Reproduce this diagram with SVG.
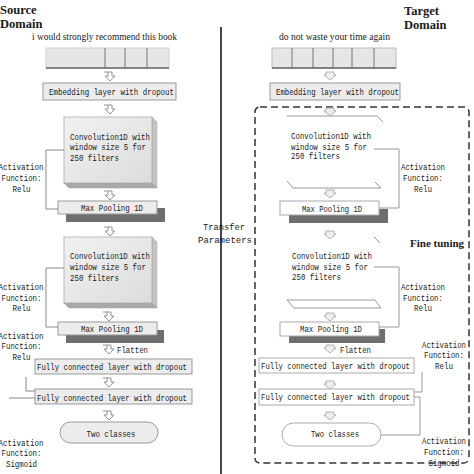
<svg xmlns="http://www.w3.org/2000/svg" width="474" height="474" viewBox="0 0 474 474">
<style>
.m{font-family:"Liberation Mono","DejaVu Sans Mono",monospace;font-size:9.5px;fill:#1a1a1a}
.s{font-family:"Liberation Serif","DejaVu Serif",serif;fill:#1a1a1a}
.b{font-weight:bold}
.box{fill:#ececec;stroke:#999;stroke-width:1}
.wbox{fill:#fff;stroke:#aaa;stroke-width:1}
.shadow{fill:#6e6e6e}
.ln{fill:none;stroke:#888;stroke-width:1}
.lnt{fill:none;stroke:#999;stroke-width:1}
.front{fill:url(#gf);stroke:#aaa;stroke-width:0.8}
.side{fill:#c4c4c4;stroke:#aaa;stroke-width:0.5}
.bot{fill:#a9a9a9;stroke:#999;stroke-width:0.5}
.mid{text-anchor:middle}
</style>
<defs>
<linearGradient id="gf" x1="0" y1="0" x2="1" y2="1">
<stop offset="0" stop-color="#f2f2f2"/>
<stop offset="1" stop-color="#dcdcdc"/>
</linearGradient>
<path id="arS" d="M-6,0 H2 V4 H5 L0,9 L-5,4 H-2 V0" fill="#fff" stroke="#888" stroke-width="0.9"/>
<path id="arT" d="M-4,0 H4 V3 H6 L0,8 L-6,3 H-4 Z" fill="#eee" stroke="#aaa" stroke-width="0.9"/>
</defs>
<rect width="474" height="474" fill="#fff"/>

<!-- headings -->
<g id="source-title">
<text class="s b" x="0" y="14" font-size="12.5">Source</text>
<text class="s b" x="0" y="28" font-size="12.5">Domain</text>
</g>
<g id="target-title">
<text class="s b" x="404" y="15" font-size="12.5">Target</text>
<text class="s b" x="404" y="29" font-size="12.5">Domain</text>
</g>
<text class="s" x="32" y="40" font-size="9.5" textLength="145" lengthAdjust="spacingAndGlyphs">i would strongly recommend this book</text>
<text class="s" x="279" y="40" font-size="9.5" textLength="111" lengthAdjust="spacingAndGlyphs">do not waste your time again</text>

<!-- divider and transfer label -->
<g id="divider">
<rect x="220" y="27" width="2" height="447" fill="#444"/>
<text class="m mid" x="224" y="230" font-size="10.5" textLength="42" lengthAdjust="spacingAndGlyphs">Transfer</text>
<text class="m mid" x="225" y="243" font-size="10.5" textLength="54" lengthAdjust="spacingAndGlyphs">Parameters</text>
</g>

<!-- fine tuning dashed region -->
<g id="fine-tuning">
<rect x="255" y="107" width="214" height="356" rx="5" fill="none" stroke="#333" stroke-width="1.5" stroke-dasharray="7,4"/>
<text class="s b" x="410" y="247" font-size="11">Fine tuning</text>
</g>

<!-- SOURCE column -->
<g id="tokens-src">
<rect x="46" y="48" width="123" height="20" fill="#e6e6e6" stroke="#d0d0d0"/>
<line x1="105" y1="48" x2="105" y2="68" stroke="#777"/>
<line x1="125" y1="48" x2="125" y2="68" stroke="#777"/>
<line x1="147" y1="48" x2="147" y2="68" stroke="#777"/>
<line x1="46" y1="68" x2="169" y2="68" stroke="#666" stroke-width="1.5"/>
</g>
<g id="emb-src">
<rect class="box" x="43" y="83" width="133" height="17"/>
<text class="m" x="49" y="95" textLength="125" lengthAdjust="spacingAndGlyphs">Embedding layer with dropout</text>
</g>
<g id="conv1-src">
<polygon class="side" points="152,117 157,122 157,188 152,183"/>
<polygon class="bot" points="64,183 152,183 157,188 69,188"/>
<rect class="front" x="64" y="117" width="88" height="66"/>
<text class="m" x="70" y="139.5" textLength="80" lengthAdjust="spacingAndGlyphs">Convolution1D with</text>
<text class="m" x="70" y="150" textLength="76" lengthAdjust="spacingAndGlyphs">window size 5 for</text>
<text class="m" x="70" y="160.5" textLength="49" lengthAdjust="spacingAndGlyphs">250 filters</text>
</g>
<g id="mp1-src">
<rect class="shadow" x="66" y="208" width="99" height="14"/>
<rect class="box" x="58" y="201" width="99" height="13"/>
<text class="m" x="81" y="211" textLength="62" lengthAdjust="spacingAndGlyphs">Max Pooling 1D</text>
</g>
<g id="conv2-src">
<polygon class="side" points="152,237 157,242 157,308 152,303"/>
<polygon class="bot" points="64,303 152,303 157,308 69,308"/>
<rect class="front" x="64" y="237" width="88" height="66"/>
<text class="m" x="70" y="259" textLength="80" lengthAdjust="spacingAndGlyphs">Convolution1D with</text>
<text class="m" x="70" y="270" textLength="76" lengthAdjust="spacingAndGlyphs">window size 5 for</text>
<text class="m" x="70" y="281" textLength="49" lengthAdjust="spacingAndGlyphs">250 filters</text>
</g>
<g id="mp2-src">
<rect class="shadow" x="66" y="330" width="98" height="13"/>
<rect class="box" x="58" y="322" width="99" height="13"/>
<text class="m" x="81" y="332" textLength="62" lengthAdjust="spacingAndGlyphs">Max Pooling 1D</text>
</g>
<text class="m" x="117" y="353" textLength="31" lengthAdjust="spacingAndGlyphs">Flatten</text>
<g id="fc1-src">
<rect class="box" x="35" y="359" width="157" height="15"/>
<text class="m" x="37" y="370" textLength="150" lengthAdjust="spacingAndGlyphs">Fully connected layer with dropout</text>
</g>
<g id="fc2-src">
<rect class="box" x="35" y="389" width="157" height="15"/>
<text class="m" x="37" y="400.5" textLength="150" lengthAdjust="spacingAndGlyphs">Fully connected layer with dropout</text>
</g>
<g id="out-src">
<rect class="box" x="60" y="422" width="98" height="21" rx="10.5"/>
<text class="m mid" x="111" y="437" textLength="49" lengthAdjust="spacingAndGlyphs">Two classes</text>
</g>
<g id="act-src">
<text class="m mid" x="21" y="170" textLength="45" lengthAdjust="spacingAndGlyphs">Activation</text>
<text class="m mid" x="21.5" y="181" textLength="40" lengthAdjust="spacingAndGlyphs">Function:</text>
<text class="m mid" x="21.5" y="192" textLength="18" lengthAdjust="spacingAndGlyphs">Relu</text>
<text class="m mid" x="21" y="290" textLength="45" lengthAdjust="spacingAndGlyphs">Activation</text>
<text class="m mid" x="21.5" y="301" textLength="40" lengthAdjust="spacingAndGlyphs">Function:</text>
<text class="m mid" x="21.5" y="311" textLength="18" lengthAdjust="spacingAndGlyphs">Relu</text>
<text class="m mid" x="21" y="339" textLength="45" lengthAdjust="spacingAndGlyphs">Activation</text>
<text class="m mid" x="21.5" y="349" textLength="40" lengthAdjust="spacingAndGlyphs">Function:</text>
<text class="m mid" x="21.5" y="360" textLength="18" lengthAdjust="spacingAndGlyphs">Relu</text>
<text class="m mid" x="21" y="446" textLength="45" lengthAdjust="spacingAndGlyphs">Activation</text>
<text class="m mid" x="21.5" y="456" textLength="40" lengthAdjust="spacingAndGlyphs">Function:</text>
<text class="m mid" x="21.5" y="467" textLength="31" lengthAdjust="spacingAndGlyphs">Sigmoid</text>
</g>

<!-- TARGET column -->
<g id="tokens-tgt">
<rect x="272" y="48" width="124" height="20" fill="#e6e6e6" stroke="#bbb"/>
<line x1="292" y1="48" x2="292" y2="68" stroke="#777"/>
<line x1="313" y1="48" x2="313" y2="68" stroke="#777"/>
<line x1="333" y1="48" x2="333" y2="68" stroke="#777"/>
<line x1="352" y1="48" x2="352" y2="68" stroke="#777"/>
<line x1="374" y1="48" x2="374" y2="68" stroke="#777"/>
<line x1="272" y1="68" x2="396" y2="68" stroke="#666" stroke-width="1.5"/>
</g>
<g id="emb-tgt">
<rect class="box" x="270" y="83" width="130" height="17"/>
<text class="m" x="276" y="95" textLength="123" lengthAdjust="spacingAndGlyphs">Embedding layer with dropout</text>
</g>
<g id="conv1-tgt">
<path class="lnt" d="M287,116 H377 L383,122"/>
<path class="lnt" d="M287,181 L293,188 H381 L375,182"/>
<text class="m" x="291" y="139" textLength="80" lengthAdjust="spacingAndGlyphs">Convolution1D with</text>
<text class="m" x="291" y="149.5" textLength="76" lengthAdjust="spacingAndGlyphs">window size 5 for</text>
<text class="m" x="291" y="159" textLength="49" lengthAdjust="spacingAndGlyphs">250 filters</text>
</g>
<g id="mp1-tgt">
<rect class="shadow" x="289" y="209" width="99" height="14"/>
<rect class="wbox" x="280" y="201" width="99" height="14"/>
<text class="m" x="302" y="212" textLength="60" lengthAdjust="spacingAndGlyphs">Max Pooling 1D</text>
</g>
<g id="conv2-tgt">
<path class="lnt" d="M374,237 L380,243"/>
<polygon class="lnt" points="287,300 375,300 381,308 294,308"/>
<text class="m" x="292" y="259" textLength="80" lengthAdjust="spacingAndGlyphs">Convolution1D with</text>
<text class="m" x="292" y="270" textLength="76" lengthAdjust="spacingAndGlyphs">window size 5 for</text>
<text class="m" x="292" y="280" textLength="49" lengthAdjust="spacingAndGlyphs">250 filters</text>
</g>
<g id="mp2-tgt">
<rect class="shadow" x="289" y="329" width="96" height="14"/>
<rect class="wbox" x="280" y="322" width="99" height="14"/>
<text class="m" x="300" y="332" textLength="62" lengthAdjust="spacingAndGlyphs">Max Pooling 1D</text>
</g>
<text class="m" x="340" y="353" textLength="31" lengthAdjust="spacingAndGlyphs">Flatten</text>
<g id="fc1-tgt">
<rect class="wbox" x="259" y="358" width="155" height="15"/>
<text class="m" x="261" y="368.5" textLength="149" lengthAdjust="spacingAndGlyphs">Fully connected layer with dropout</text>
</g>
<g id="fc2-tgt">
<rect class="wbox" x="259" y="389" width="155" height="16"/>
<text class="m" x="261" y="400" textLength="149" lengthAdjust="spacingAndGlyphs">Fully connected layer with dropout</text>
</g>
<g id="out-tgt">
<rect class="wbox" x="282" y="423" width="99" height="23" rx="11.5"/>
<text class="m mid" x="335" y="437" textLength="48" lengthAdjust="spacingAndGlyphs">Two classes</text>
</g>
<g id="act-tgt">
<text class="m mid" x="423" y="170" textLength="44" lengthAdjust="spacingAndGlyphs">Activation</text>
<text class="m mid" x="423" y="181" textLength="40" lengthAdjust="spacingAndGlyphs">Function:</text>
<text class="m mid" x="423" y="192" textLength="18" lengthAdjust="spacingAndGlyphs">Relu</text>
<text class="m mid" x="423" y="290" textLength="44" lengthAdjust="spacingAndGlyphs">Activation</text>
<text class="m mid" x="423" y="301" textLength="40" lengthAdjust="spacingAndGlyphs">Function:</text>
<text class="m mid" x="423" y="311" textLength="18" lengthAdjust="spacingAndGlyphs">Relu</text>
<text class="m mid" x="444" y="348" textLength="44" lengthAdjust="spacingAndGlyphs">Activation</text>
<text class="m mid" x="444" y="358" textLength="40" lengthAdjust="spacingAndGlyphs">Function:</text>
<text class="m mid" x="444" y="369" textLength="18" lengthAdjust="spacingAndGlyphs">Relu</text>
<text class="m mid" x="444" y="444" textLength="44" lengthAdjust="spacingAndGlyphs">Activation</text>
<text class="m mid" x="444" y="455" textLength="40" lengthAdjust="spacingAndGlyphs">Function:</text>
<text class="m mid" x="444" y="466" textLength="31" lengthAdjust="spacingAndGlyphs">Sigmoid</text>
</g>

<!-- connectors -->
<g id="connectors">
<use href="#arS" x="110" y="72"/>
<use href="#arS" x="110" y="105"/>
<use href="#arS" x="110" y="191"/>
<use href="#arS" x="110" y="227"/>
<use href="#arS" x="109" y="312"/>
<use href="#arS" x="109" y="345"/>
<use href="#arS" x="109" y="378"/>
<use href="#arS" x="109" y="411"/>
<use href="#arT" x="330" y="72"/>
<use href="#arT" x="330" y="108"/>
<use href="#arT" x="330" y="190"/>
<use href="#arT" x="330" y="231"/>
<use href="#arT" x="330" y="313"/>
<use href="#arT" x="330" y="345"/>
<use href="#arT" x="330" y="381"/>
<use href="#arT" x="330" y="412"/>
<path class="ln" d="M64,150 H46 V209 H58"/>
<path class="ln" d="M64,268 H46 V327 H58"/>
<path class="ln" d="M26,377 V391 H35"/>
<path class="ln" d="M9,398 H35"/>
<path class="lnt" d="M374,149 H399 V208 H379"/>
<path class="lnt" d="M374,267 H399 V327 H379"/>
<path class="lnt" d="M422,372 V392 H414"/>
<path class="lnt" d="M414,397 H420 V435 H381"/>
</g>
</svg>
